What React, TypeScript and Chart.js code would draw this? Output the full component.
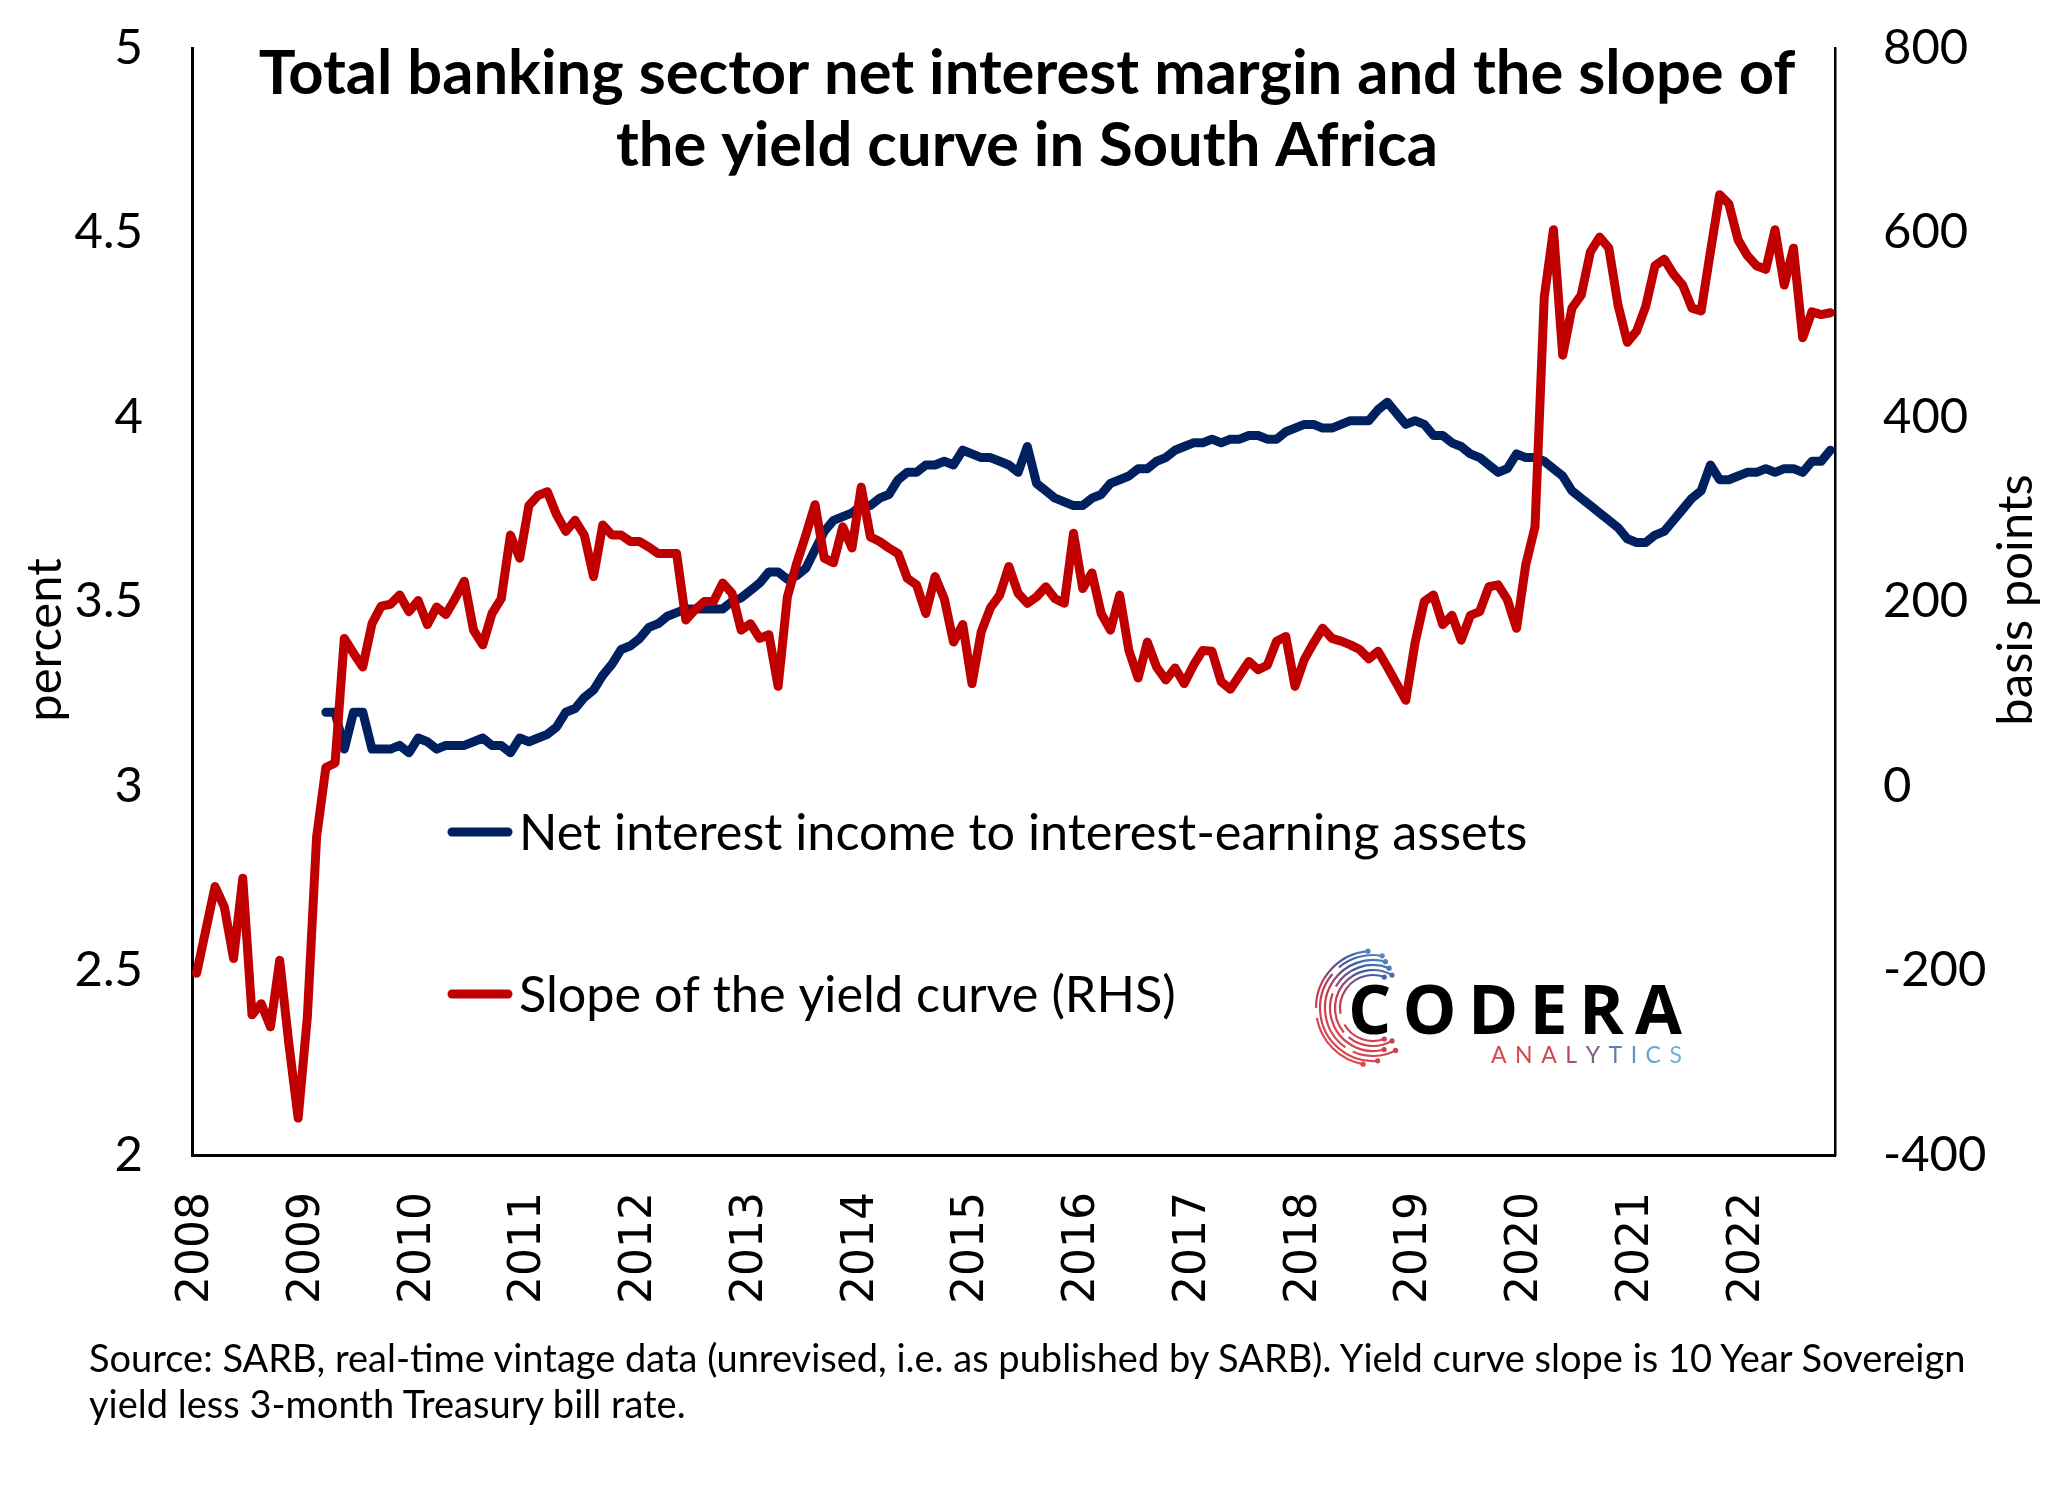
import React, { useEffect, useRef } from 'react';
import { Chart, registerables } from 'chart.js';

Chart.register(...registerables);

// ---------------- data ----------------
const START_YEAR = 2008;
const MONTH_COUNT = 178; // Jan 2008 .. Oct 2022
const YEAR_TICKS = ['2008', '2009', '2010', '2011', '2012', '2013', '2014', '2015', '2016', '2017', '2018', '2019', '2020', '2021', '2022'];

// Net interest income to interest-earning assets (percent, LHS)
const NIM: (number | null)[] = [
  null, null, null, null, null, null, null, null, null, null, null, null, // 2008
  null, null, 3.20, 3.20, 3.10, 3.20, 3.20, 3.10, 3.10, 3.10, 3.11, 3.09, // 2009
  3.13, 3.12, 3.10, 3.11, 3.11, 3.11, 3.12, 3.13, 3.11, 3.11, 3.09, 3.13, // 2010
  3.12, 3.13, 3.14, 3.16, 3.20, 3.21, 3.24, 3.26, 3.30, 3.33, 3.37, 3.38, // 2011
  3.40, 3.43, 3.44, 3.46, 3.47, 3.48, 3.48, 3.48, 3.48, 3.48, 3.50, 3.51, // 2012
  3.53, 3.55, 3.58, 3.58, 3.56, 3.57, 3.59, 3.64, 3.69, 3.72, 3.73, 3.74, // 2013
  3.76, 3.76, 3.78, 3.79, 3.83, 3.85, 3.85, 3.87, 3.87, 3.88, 3.87, 3.91, // 2014
  3.90, 3.89, 3.89, 3.88, 3.87, 3.85, 3.92, 3.82, 3.80, 3.78, 3.77, 3.76, // 2015
  3.76, 3.78, 3.79, 3.82, 3.83, 3.84, 3.86, 3.86, 3.88, 3.89, 3.91, 3.92, // 2016
  3.93, 3.93, 3.94, 3.93, 3.94, 3.94, 3.95, 3.95, 3.94, 3.94, 3.96, 3.97, // 2017
  3.98, 3.98, 3.97, 3.97, 3.98, 3.99, 3.99, 3.99, 4.02, 4.04, 4.01, 3.98, // 2018
  3.99, 3.98, 3.95, 3.95, 3.93, 3.92, 3.90, 3.89, 3.87, 3.85, 3.86, 3.90, // 2019
  3.89, 3.89, 3.88, 3.86, 3.84, 3.80, 3.78, 3.76, 3.74, 3.72, 3.70, 3.67, // 2020
  3.66, 3.66, 3.68, 3.69, 3.72, 3.75, 3.78, 3.80, 3.87, 3.83, 3.83, 3.84, // 2021
  3.85, 3.85, 3.86, 3.85, 3.86, 3.86, 3.85, 3.88, 3.88, 3.91,             // 2022
];

// Slope of the yield curve (basis points, RHS)
const SLOPE: number[] = [
  -203, -156, -109, -131, -187, -100, -248, -236, -261, -189, -280, -360, // 2008
  -250, -55, 20, 25, 160, 144, 129, 176, 195, 197, 207, 189,              // 2009
  201, 175, 194, 186, 203, 222, 169, 153, 187, 203, 272, 247,             // 2010
  304, 315, 319, 294, 276, 288, 272, 227, 283, 272, 272, 265,             // 2011
  265, 259, 252, 252, 252, 180, 191, 200, 200, 220, 209, 169,             // 2012
  176, 160, 164, 108, 205, 241, 272, 305, 247, 242, 281, 258,             // 2013
  324, 270, 265, 258, 252, 225, 218, 187, 227, 203, 156, 175,             // 2014
  111, 167, 193, 207, 238, 209, 198, 205, 216, 203, 198, 274,             // 2015
  214, 231, 187, 169, 207, 147, 117, 156, 129, 115, 128, 111,             // 2016
  131, 147, 146, 113, 105, 120, 135, 126, 131, 157, 162, 108,             // 2017
  137, 155, 171, 160, 157, 153, 148, 138, 146, 129, 111, 93,              // 2018
  155, 200, 207, 175, 185, 158, 185, 189, 216, 218, 202, 171,             // 2019
  240, 281, 530, 603, 467, 518, 532, 579, 595, 583, 521, 481,             // 2020
  493, 520, 564, 571, 555, 543, 518, 515, 579, 641, 631, 592,             // 2021
  575, 564, 560, 603, 543, 583, 486, 514, 511, 513,                       // 2022
];

const MONTHS: string[] = [];
for (let i = 0; i < MONTH_COUNT; i++) {
  const y = START_YEAR + Math.floor(i / 12);
  const m = (i % 12) + 1;
  MONTHS.push(`${y}-${m < 10 ? '0' + m : m}`);
}

const SERIES_LABELS = ['Net interest income to interest-earning assets', 'Slope of the yield curve (RHS)'];
const TITLE_LINES = ['Total banking sector net interest margin and the slope of', 'the yield curve in South Africa'];
const AXIS_TITLES = ['percent', 'basis points'];
const SOURCE_LINES = [
  'Source: SARB, real-time vintage data (unrevised, i.e. as published by SARB). Yield curve slope is 10 Year Sovereign',
  'yield less 3-month Treasury bill rate.',
];
const LOGO_MAIN = 'CODERA';
const LOGO_SUB = 'ANALYTICS';

// ---------------- styles ----------------
const BLUE = '#002060';
const RED = '#C00000';
const SUB_COLORS = ['#d9464d', '#d4474f', '#cc4a55', '#b04e66', '#7f5b8c', '#5d7fb0', '#5b94c2', '#62a8d2', '#6ab6da'];

function drawSpaced(ctx: CanvasRenderingContext2D, text: string, x0: number, x1: number, y: number, colors?: string[]) {
  const chars = Array.from(text);
  const widths = chars.map((c) => ctx.measureText(c).width);
  const total = widths.reduce((a, b) => a + b, 0);
  const gap = (x1 - x0 - total) / (chars.length - 1);
  let x = x0;
  chars.forEach((c, i) => {
    if (colors) ctx.fillStyle = colors[i % colors.length];
    ctx.fillText(c, x, y);
    x += widths[i] + gap;
  });
}

const overlayPlugin = {
  id: 'overlay',
  afterDraw(chart: any) {
    const ctx: CanvasRenderingContext2D = chart.ctx;
    ctx.save();

    // Title (inside plot area)
    let size = 61;
    ctx.font = `bold ${size}px Lato`;
    const w = ctx.measureText(TITLE_LINES[0]).width;
    if (w > 0) size = Math.max(54, Math.min(68, (size * 1537) / w));
    ctx.font = `bold ${size}px Lato`;
    ctx.fillStyle = '#000';
    ctx.textAlign = 'center';
    ctx.textBaseline = 'alphabetic';
    ctx.fillText(TITLE_LINES[0], 1027, 94);
    ctx.fillText(TITLE_LINES[1], 1027, 166);

    // Legend
    ctx.lineCap = 'round';
    ctx.lineWidth = 9;
    ctx.strokeStyle = BLUE;
    ctx.beginPath();
    ctx.moveTo(452, 832);
    ctx.lineTo(508, 832);
    ctx.stroke();
    ctx.strokeStyle = RED;
    ctx.beginPath();
    ctx.moveTo(452, 994);
    ctx.lineTo(508, 994);
    ctx.stroke();
    ctx.font = '50.4px Lato';
    ctx.textAlign = 'left';
    ctx.fillStyle = '#000';
    ctx.fillText(SERIES_LABELS[0], 519, 850);
    ctx.fillText(SERIES_LABELS[1], 519, 1012);

    // Axis titles
    ctx.font = '49px Lato';
    ctx.textAlign = 'center';
    ctx.save();
    ctx.translate(61, 640);
    ctx.rotate(-Math.PI / 2);
    ctx.fillText(AXIS_TITLES[0], 0, 0);
    ctx.restore();
    ctx.save();
    ctx.translate(2032, 600);
    ctx.rotate(-Math.PI / 2);
    ctx.fillText(AXIS_TITLES[1], 0, 0);
    ctx.restore();

    // Logo
    const cx = 1373;
    const cy = 1008;
    const grad = ctx.createLinearGradient(cx + 35, cy - 60, cx - 35, cy + 60);
    grad.addColorStop(0, '#6ab6da');
    grad.addColorStop(0.3, '#3d5aa0');
    grad.addColorStop(0.55, '#c43a55');
    grad.addColorStop(1, '#e0504f');
    ctx.strokeStyle = grad;
    ctx.fillStyle = grad;
    ctx.lineWidth = 2.2;
    ctx.lineCap = 'butt';
    const rings = [
      [33, 70, 150, 170, 290],
      [38, 60, 130, 140, 300],
      [43, 75, 200, 210, 292],
      [48, 62, 115, 125, 285],
      [53, 85, 220, 230, 280],
      [57, 100, 170, 180, 265],
    ];
    const rad = (d: number) => (d * Math.PI) / 180;
    rings.forEach(([r, a0, a1, b0, b1]) => {
      ctx.beginPath();
      ctx.arc(cx, cy, r, rad(a0), rad(a1));
      ctx.stroke();
      ctx.beginPath();
      ctx.arc(cx, cy, r, rad(b0), rad(b1));
      ctx.stroke();
      [a0, b1].forEach((a) => {
        ctx.beginPath();
        ctx.arc(cx + r * Math.cos(rad(a)), cy + r * Math.sin(rad(a)), 2.6, 0, Math.PI * 2);
        ctx.fill();
      });
    });

    ctx.textAlign = 'left';
    ctx.textBaseline = 'alphabetic';
    ctx.fillStyle = '#000';
    ctx.font = 'bold 68px "Open Sans"';
    drawSpaced(ctx, LOGO_MAIN, 1348, 1682, 1034);
    ctx.font = '23px Lato';
    drawSpaced(ctx, LOGO_SUB, 1491, 1682, 1063, SUB_COLORS);

    ctx.restore();
  },
};

const fixPad = (s: any) => {
  s.paddingTop = 0;
  s.paddingBottom = 0;
  s.paddingLeft = 0;
  s.paddingRight = 0;
};

export default function App() {
  const ref = useRef<HTMLCanvasElement>(null);

  useEffect(() => {
    const canvas = ref.current;
    if (!canvas) return;
    let alive = true;
    const chart = new Chart(canvas, {
      type: 'line',
      data: {
        labels: MONTHS,
        datasets: [
          {
            label: SERIES_LABELS[0],
            data: NIM,
            yAxisID: 'y',
            borderColor: BLUE,
            backgroundColor: BLUE,
            borderWidth: 9,
            pointRadius: 0,
            tension: 0,
            borderJoinStyle: 'round',
            borderCapStyle: 'round',
            fill: false,
            order: 1,
          },
          {
            label: SERIES_LABELS[1],
            data: SLOPE,
            yAxisID: 'y1',
            borderColor: RED,
            backgroundColor: RED,
            borderWidth: 9,
            pointRadius: 0,
            tension: 0,
            borderJoinStyle: 'round',
            borderCapStyle: 'round',
            fill: false,
            order: 0,
          },
        ],
      },
      options: {
        responsive: false,
        animation: false,
        devicePixelRatio: 1,
        layout: { padding: { top: 48, left: 0, right: 0, bottom: 0 } },
        plugins: {
          legend: { display: false },
          title: { display: false },
          tooltip: { enabled: false },
        },
        scales: {
          x: {
            type: 'category',
            offset: true,
            grid: { display: false, drawTicks: false },
            border: { display: true, color: '#000', width: 3 },
            afterFit: (s: any) => {
              s.height = 350;
              fixPad(s);
            },
            ticks: {
              autoSkip: false,
              maxRotation: 90,
              minRotation: 90,
              padding: 37,
              color: '#000',
              font: { family: '"DejaVu Sans"', size: 44 },
              callback: (_v: any, idx: number) => (idx % 12 === 0 ? YEAR_TICKS[idx / 12] : null),
            },
          },
          y: {
            position: 'left',
            min: 2,
            max: 5,
            grid: { display: false, drawTicks: false },
            border: { display: true, color: '#000', width: 3 },
            afterFit: (s: any) => {
              s.width = 192;
              fixPad(s);
            },
            ticks: {
              stepSize: 0.5,
              padding: 49,
              color: '#000',
              font: { family: 'Lato', size: 49 },
              callback: (v: any) => String(v),
            },
          },
          y1: {
            position: 'right',
            min: -400,
            max: 800,
            grid: { display: false, drawTicks: false },
            border: { display: true, color: '#000', width: 2.5 },
            afterFit: (s: any) => {
              s.width = 213;
              fixPad(s);
            },
            ticks: {
              stepSize: 200,
              padding: 48,
              color: '#000',
              font: { family: 'Lato', size: 49 },
              callback: (v: any) => String(v),
            },
          },
        },
      },
      plugins: [overlayPlugin],
    } as any);

    if ((document as any).fonts && (document as any).fonts.ready) {
      (document as any).fonts.ready.then(() => {
        if (alive) chart.update();
      });
    }

    return () => {
      alive = false;
      chart.destroy();
    };
  }, []);

  return (
    <div style={{ position: 'absolute', left: 0, top: 0, width: 2048, height: 1505, background: '#fff' }}>
      <canvas ref={ref} width={2048} height={1505} style={{ position: 'absolute', left: 0, top: 0, width: 2048, height: 1505 }} />
      <div
        style={{
          position: 'absolute',
          left: 89,
          top: 1334,
          fontFamily: 'Lato',
          fontSize: 38,
          lineHeight: '46px',
          whiteSpace: 'nowrap',
          color: '#000',
        }}
      >
        {SOURCE_LINES[0]}
        <br />
        {SOURCE_LINES[1]}
      </div>
    </div>
  );
}
